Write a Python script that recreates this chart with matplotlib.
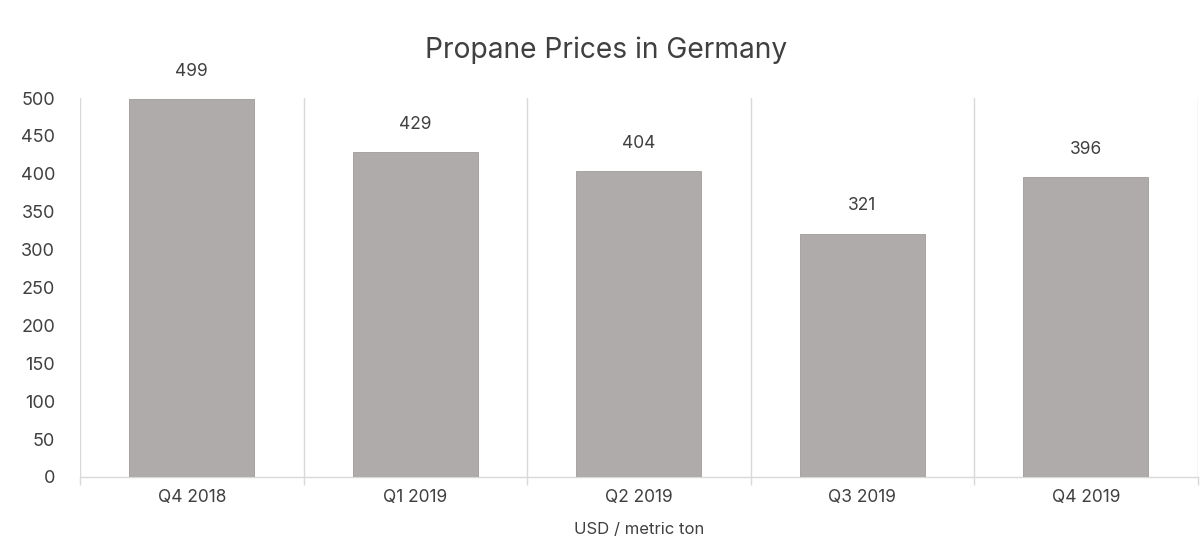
import numpy as np
from matplotlib import pyplot as plt

# data
quarters = ["Q4 2018", "Q1 2019", "Q2 2019", "Q3 2019", "Q4 2019"]
prices = [499, 429, 404, 321, 396]

text_color = "#404040"
bar_color = "#afabaa"
grid_color = "#d9d9d9"

plt.rcParams['font.family'] = ['Inter', 'DejaVu Sans']

fig = plt.figure(figsize=(12, 5.54), dpi=100)
ax = fig.add_axes([0.0667, 0.139, 0.9313, 0.684])

x = np.arange(len(quarters))
bars = ax.bar(x, prices, width=0.56, color=bar_color, edgecolor="#a7a3a2",
              linewidth=0.7, zorder=3)

for xi, v in zip(x, prices):
    ax.annotate(f"{v}", (xi, v), xytext=(0, 20), textcoords="offset points",
                ha="center", va="center", fontsize=12.5, color=text_color)

ax.set_xlim(-0.5, len(quarters) - 0.5)
ax.set_ylim(0, 500)
ax.set_yticks(np.arange(0, 501, 50))
ax.set_xticks(x)
ax.set_xticklabels(quarters)

# category boundaries: gridlines + small ticks under the axis
bounds = np.arange(-0.5, len(quarters), 1.0)
ax.set_xticks(bounds, minor=True)
ax.grid(axis="x", which="minor", color=grid_color, linewidth=1, zorder=0)
ax.tick_params(axis="x", which="minor", length=6, color=grid_color, width=1)
ax.tick_params(axis="x", which="major", length=0, pad=9, labelsize=12.5,
               labelcolor=text_color)
ax.tick_params(axis="y", length=0, pad=18, labelsize=13, labelcolor=text_color)

for side in ["top", "right", "left"]:
    ax.spines[side].set_visible(False)
ax.spines["bottom"].set_color(grid_color)
ax.spines["bottom"].set_linewidth(1)

ax.set_xlabel("USD / metric ton", fontsize=12, color=text_color, labelpad=11)
fig.text(0.505, 0.91, "Propane Prices in Germany", ha="center", va="center",
         fontsize=20.3, color=text_color)

fig.savefig("out.png", dpi=100)
